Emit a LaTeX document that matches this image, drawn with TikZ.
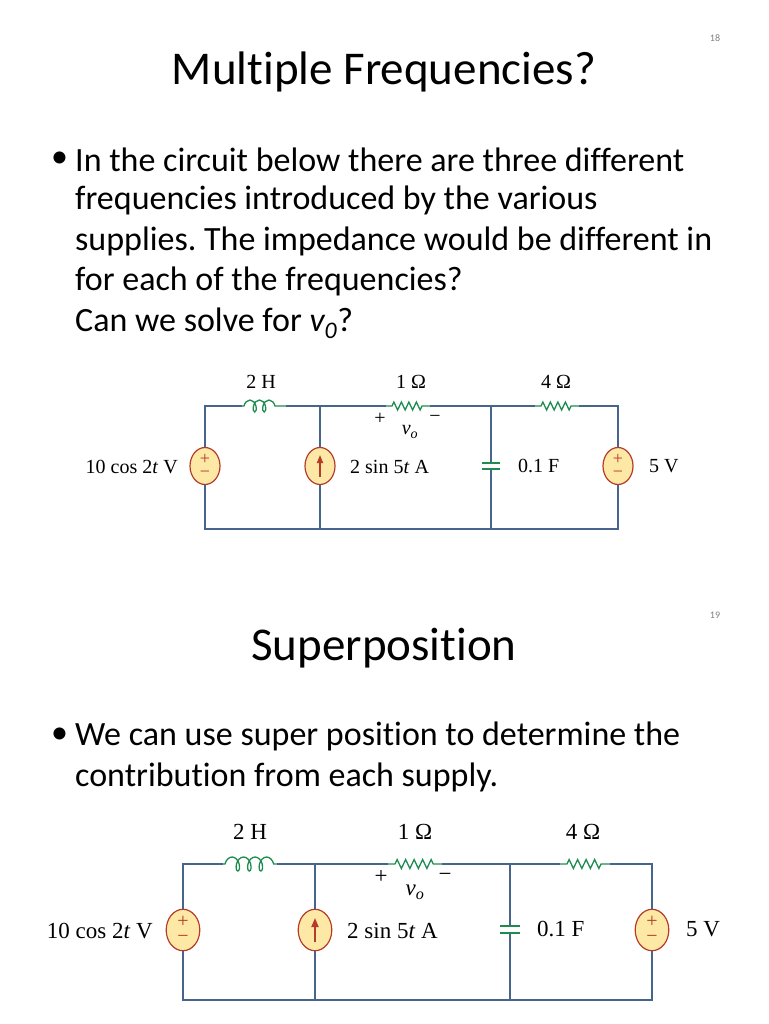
\documentclass[tikz,border=0pt]{standalone}
\usepackage{fontspec}
\setmainfont{Liberation Serif}
\newfontfamily\calfont[Ligatures=NoCommon]{Carlito}
\frenchspacing
\usetikzlibrary{shapes.geometric,decorations.pathmorphing,arrows.meta}
\definecolor{wire}{RGB}{70,100,140}
\definecolor{comp}{RGB}{30,140,80}
\definecolor{srcfill}{RGB}{253,232,165}
\definecolor{srcdraw}{RGB}{180,60,40}
\tikzset{
 w/.style={draw=wire,line width=1.2pt},
 cp/.style={draw=comp,line width=1.3pt},
 src/.style={ellipse,draw=srcdraw,fill=srcfill,line width=1.2pt,minimum width=#1*30pt,minimum height=#1*37pt,inner sep=0pt},
 lbl/.style={font=\fontsize{#1}{#1}\selectfont,inner sep=0pt},
 slide/.style={font=\calfont\fontsize{34}{34}\selectfont,anchor=west,inner sep=0pt},
 ttl/.style={font=\calfont\fontsize{47}{47}\selectfont},
 pg/.style={font=\calfont\fontsize{10}{10}\selectfont,text=gray},
 pm/.style={text=srcdraw,font=\fontsize{#1}{#1}\selectfont,inner sep=0pt},
}
\newcommand{\vsrc}[4]{% name, pos, scale, font size
 \node[src=#3] (#1) at #2 {};
 \node[pm=#4] at ([yshift=7*#3pt]#1.center) {+};
 \node[pm=#4] at ([yshift=-8*#3pt]#1.center) {−};
}
\begin{document}
\begin{tikzpicture}[x=1pt,y=-1pt]
\useasboundingbox (0,0) rectangle (768,1024);
% slide 1
\node[pg] (p18) at (715,38) {18};
\node[ttl] (t1) at (384,72) {Multiple Frequencies?};
\node[slide] (b1) at (51,160) {•};
\node[slide] (l1) at (75,160) {In the circuit below there are three different};
\node[slide] (l2) at (75,200) {frequencies introduced by the various};
\node[slide] (l3) at (75,241) {supplies. The impedance would be different in};
\node[slide] (l4) at (75,281) {for each of the frequencies?};
\node[slide] (l5) at (75,323) {Can we solve for \textit{v\textsubscript{0}}?};
% circuit 1
\coordinate (a1) at (205,406); \coordinate (b1t) at (320,406); \coordinate (c1) at (491,406); \coordinate (d1) at (618,406);
\coordinate (a1b) at (205,529); \coordinate (b1b) at (320,529); \coordinate (c1b) at (491,529); \coordinate (d1b) at (618,529);
\coordinate (L1a) at (242,406); \coordinate (L1b) at (286,406);
\coordinate (R1a) at (386,406); \coordinate (R1b) at (430,406);
\coordinate (R2a) at (535,406); \coordinate (R2b) at (579,406);
\coordinate (C1t) at (491,463); \coordinate (C1b) at (491,469);
\vsrc{V1}{(205,466)}{1}{18}
\node[src=1] (I1) at (320,466) {};
\draw[srcdraw,line width=1.6pt,-{Triangle[length=8pt,width=6pt]}] ([yshift=-11pt]I1.center) -- ([yshift=11pt]I1.center);
\vsrc{V2}{(618,466)}{1}{18}
\draw[w] (V1) -- (a1) -- (L1a) (L1b) -- (R1a) (R1b) -- (R2a) (R2b) -- (d1) -- (V2);
\draw[w] (V1) -- (a1b) -- (d1b) -- (V2);
\draw[w] (b1t) -- (I1) -- (b1b);
\draw[w] (c1) -- (C1t) (C1b) -- (c1b);
\draw[cp,decorate,decoration={coil,aspect=0.6,segment length=9.5pt,amplitude=6pt,pre length=2pt,post length=2pt}] (L1a) -- (L1b);
\draw[cp,decorate,decoration={zigzag,segment length=7.5pt,amplitude=4pt,pre length=6pt,post length=6pt}] (R1a) -- (R1b);
\draw[cp,decorate,decoration={zigzag,segment length=7.5pt,amplitude=4pt,pre length=6pt,post length=6pt}] (R2a) -- (R2b);
\draw[cp] ([xshift=-9pt]C1t) -- ([xshift=9pt]C1t) ([xshift=-9pt]C1b) -- ([xshift=9pt]C1b);
\node[lbl=20] (n1) at (261,382) {2 H};
\node[lbl=20] (n2) at (411,382) {1 Ω};
\node[lbl=20] (n3) at (556,382) {4 Ω};
\node[lbl=20] (n4) at (380,419) {+};
\node[lbl=20] (n5) at (435,419) {−};
\node[lbl=20] (n6) at (410,432) {\textit{v\textsubscript{o}}};
\node[lbl=20,anchor=east] (n7) at (178,467) {10 cos 2\textit{t} V};
\node[lbl=20,anchor=west] (n8) at (350,467) {2 sin 5\textit{t} A};
\node[lbl=20,anchor=west] (n9) at (518,466) {0.1 F};
\node[lbl=20,anchor=west] (n10) at (649,466) {5 V};
% slide 2
\node[pg] (p19) at (715,615) {19};
\node[ttl] (t2) at (384,648) {Superposition};
\node[slide] (b2) at (51,736) {•};
\node[slide] (m1) at (75,736) {We can use super position to determine the};
\node[slide] (m2) at (75,777) {contribution from each supply.};
% circuit 2
\coordinate (a2) at (183,864); \coordinate (b2t) at (315,864); \coordinate (c2) at (510,864); \coordinate (d2) at (652,864);
\coordinate (a2b) at (183,1000); \coordinate (b2b) at (315,1000); \coordinate (c2b) at (510,1000); \coordinate (d2b) at (652,1000);
\coordinate (L2a) at (223,864); \coordinate (L2b) at (277,864);
\coordinate (R3a) at (388,864); \coordinate (R3b) at (442,864);
\coordinate (R4a) at (560,864); \coordinate (R4b) at (610,864);
\coordinate (C2t) at (510,926); \coordinate (C2b) at (510,933);
\vsrc{V3}{(183,930)}{1.12}{20}
\node[src=1.12] (I2) at (315,930) {};
\draw[srcdraw,line width=1.7pt,-{Triangle[length=9pt,width=7pt]}] ([yshift=-12pt]I2.center) -- ([yshift=12pt]I2.center);
\vsrc{V4}{(652,930)}{1.12}{20}
\draw[w] (V3) -- (a2) -- (L2a) (L2b) -- (R3a) (R3b) -- (R4a) (R4b) -- (d2) -- (V4);
\draw[w] (V3) -- (a2b) -- (d2b) -- (V4);
\draw[w] (b2t) -- (I2) -- (b2b);
\draw[w] (c2) -- (C2t) (C2b) -- (c2b);
\draw[cp,decorate,decoration={coil,aspect=0.6,segment length=11.5pt,amplitude=7pt,pre length=2pt,post length=2pt}] (L2a) -- (L2b);
\draw[cp,decorate,decoration={zigzag,segment length=8.5pt,amplitude=4.5pt,pre length=7pt,post length=7pt}] (R3a) -- (R3b);
\draw[cp,decorate,decoration={zigzag,segment length=8.5pt,amplitude=4.5pt,pre length=7pt,post length=7pt}] (R4a) -- (R4b);
\draw[cp] ([xshift=-10pt]C2t) -- ([xshift=10pt]C2t) ([xshift=-10pt]C2b) -- ([xshift=10pt]C2b);
\node[lbl=23] (o1) at (250,832) {2 H};
\node[lbl=23] (o2) at (415,832) {1 Ω};
\node[lbl=23] (o3) at (583,832) {4 Ω};
\node[lbl=23] (o4) at (381,877) {+};
\node[lbl=23] (o5) at (445,877) {−};
\node[lbl=23] (o6) at (415,892) {\textit{v\textsubscript{o}}};
\node[lbl=23,anchor=east] (o7) at (153,931) {10 cos 2\textit{t} V};
\node[lbl=23,anchor=west] (o8) at (347,931) {2 sin 5\textit{t} A};
\node[lbl=23,anchor=west] (o9) at (537,929) {0.1 F};
\node[lbl=23,anchor=west] (o10) at (686,929) {5 V};
\end{tikzpicture}
\end{document}
